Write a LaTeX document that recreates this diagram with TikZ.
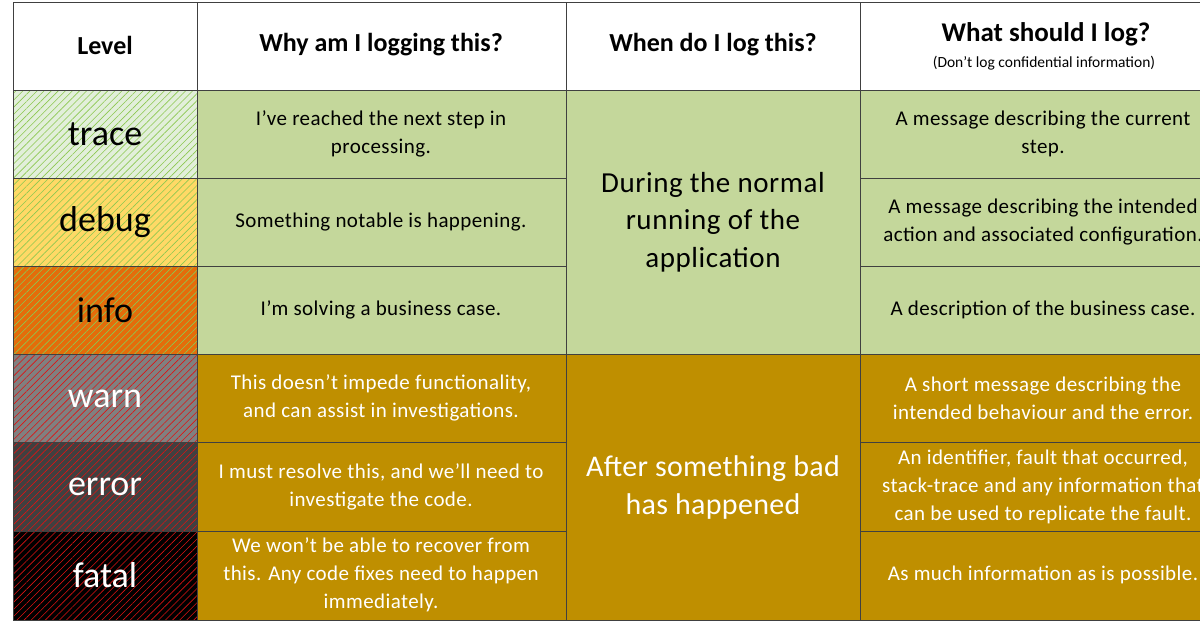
\documentclass[tikz,border=0pt]{standalone}
\usepackage{fontspec}
\setmainfont{Carlito}
\usetikzlibrary{patterns.meta}
\definecolor{grn}{RGB}{196,215,155}
\definecolor{brn}{RGB}{191,143,0}
\definecolor{tracec}{RGB}{226,239,218}
\definecolor{debugc}{RGB}{255,217,102}
\definecolor{infoc}{RGB}{228,108,10}
\definecolor{warnc}{RGB}{128,128,128}
\definecolor{errorc}{RGB}{64,64,64}
\definecolor{hg}{RGB}{140,200,80}
\definecolor{hr}{RGB}{220,20,20}
\tikzset{
  hd/.style={font=\fontsize{26}{30}\selectfont\bfseries, align=center},
  lvl/.style={font=\fontsize{36}{40}\selectfont},
  body/.style={font=\fontsize{21}{28}\selectfont\addfontfeature{LetterSpace=2}, align=center},
  big/.style={font=\fontsize{29}{37.5}\selectfont\addfontfeature{LetterSpace=2}, align=center},
  grid/.style={draw=black!75, line width=0.8pt},
}
\begin{document}
\begin{tikzpicture}[x=1pt,y=-1pt]
\useasboundingbox (0,0) rectangle (1200,630);
\clip (0,0) rectangle (1200,630);
\fill[white] (0,0) rectangle (1200,630);
\fill[grn] (197,90) rectangle (1240,354);
\fill[brn] (197,354) rectangle (1240,620);
\foreach \c/\h/\i in {tracec/hg/0, debugc/hg/1, infoc/hg/2, warnc/hr/3, errorc/hr/4, black/hr/5}{
  \fill[\c] (13,90+88.33*\i) rectangle (197,90+88.33*\i+88.33);
  \fill[pattern={Lines[angle=45,distance=5pt,line width=0.6pt]}, pattern color=\h] (13,90+88.33*\i) rectangle (197,90+88.33*\i+88.33);
}
\draw[grid] (13,2) rectangle (1240,620);
\draw[grid] (197,2) -- (197,620) (566,2) -- (566,620) (860,2) -- (860,620);
\draw[grid] (13,90) -- (1240,90) (13,354) -- (1240,354);
\foreach \y in {178.3,266.7,442.3,531.7}{\draw[grid] (13,\y) -- (566,\y) (860,\y) -- (1240,\y);}
% headers
\node[hd] (h1) at (105,45) {Level};
\node[hd] (h2) at (381,45) {Why am I logging this?};
\node[hd] (h3) at (713,45) {When do I log this?};
\node[hd, font=\fontsize{27}{30}\selectfont\bfseries] (h4) at (1046,34) {What should I log?};
\node[font=\fontsize{15.5}{17}\selectfont] (h4s) at (1044,63) {(Don’t log confidential information)};
% levels
\node[lvl] (l1) at (105,134) {trace};
\node[lvl] (l2) at (105,222) {debug};
\node[lvl] (l3) at (105,310) {info};
\node[lvl, white] (l4) at (105,399) {warn};
\node[lvl, white] (l5) at (105,487) {error};
\node[lvl, white] (l6) at (105,575) {fatal};
% why
\node[body] (w1) at (381,134) {I’ve reached the next step in\\processing.};
\node[body] (w2) at (381,222) {Something notable is happening.};
\node[body] (w3) at (381,310) {I’m solving a business case.};
\node[body, white] (w4) at (381,398) {This doesn’t impede functionality,\\and can assist in investigations.};
\node[body, white] (w5) at (381,487) {I must resolve this, and we’ll need to\\investigate the code.};
\node[body, white] (w6) at (381,575) {We won’t be able to recover from\\this. Any code fixes need to happen\\immediately.};
% when
\node[big] (t1) at (713,222) {During the normal\\running of the\\application};
\node[big, white, font=\fontsize{30}{38}\selectfont\addfontfeature{LetterSpace=1}] (t2) at (713,487) {After something bad\\has happened};
% what
\node[body] (x1) at (1043,134) {A message describing the current\\step.};
\node[body] (x2) at (1043,222) {A message describing the intended\\action and associated configuration.};
\node[body] (x3) at (1043,310) {A description of the business case.};
\node[body, white] (x4) at (1043,398) {A short message describing the\\intended behaviour and the error.};
\node[body, white] (x5) at (1043,487) {An identifier, fault that occurred,\\stack-trace and any information that\\can be used to replicate the fault.};
\node[body, white] (x6) at (1043,575) {As much information as is possible.};
\end{tikzpicture}
\end{document}
